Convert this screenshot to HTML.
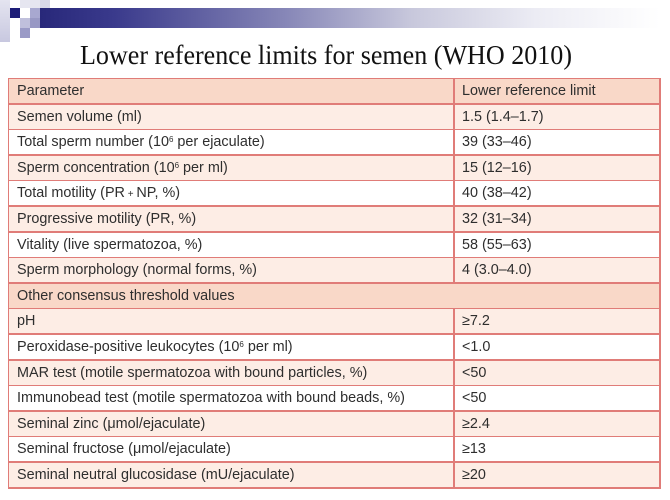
<!DOCTYPE html>
<html><head><meta charset="utf-8"><style>
html,body{margin:0;padding:0;background:#fff;}
body{width:670px;height:500px;position:relative;overflow:hidden;font-family:"Liberation Sans",sans-serif;}
.abs{position:absolute;}
.row{position:absolute;left:8px;width:652px;box-sizing:border-box;}
.c1{position:absolute;left:9px;top:0;font-size:14.4px;color:#2e2e2e;white-space:nowrap;}
.c2{position:absolute;left:454px;top:0;font-size:14.4px;color:#2e2e2e;white-space:nowrap;}
sup{font-size:8px;vertical-align:top;position:relative;top:-2px;}
.hl{position:absolute;left:8px;width:652px;height:1.5px;background:#e07c78;}
</style></head><body>
<!-- decoration -->
<div class="abs" style="left:0;top:0;width:10px;height:42px;background:linear-gradient(#e4e4f0,#c8c8e0);"></div>
<div class="abs" style="left:40px;top:8px;width:620px;height:20px;background:linear-gradient(90deg,#28287a 0%,#3a3a8c 12%,#8888b8 40%,#c8c8dc 60%,#ececf4 80%,#fff 100%);"></div>
<div class="abs" style="left:10px;top:8px;width:10px;height:10px;background:#1e1e78;"></div>
<div class="abs" style="left:20px;top:0;width:20px;height:8px;background:#e6e6f0;"></div>
<div class="abs" style="left:30px;top:8px;width:10px;height:10px;background:#a8a8d0;"></div>
<div class="abs" style="left:20px;top:18px;width:10px;height:10px;background:#c0c0dc;"></div>
<div class="abs" style="left:30px;top:18px;width:10px;height:10px;background:#9898c4;"></div>
<div class="abs" style="left:20px;top:28px;width:10px;height:10px;background:#9a9ac6;"></div>
<div class="abs" style="left:40px;top:0;width:10px;height:8px;background:#d8d8e8;"></div>
<!-- title -->
<svg class="abs" style="left:0;top:0" width="670" height="78">
<text x="80" y="64" font-family="Liberation Serif, serif" font-size="27" fill="#111" textLength="492" lengthAdjust="spacingAndGlyphs">Lower reference limits for semen (WHO 2010)</text>
</svg>
<!-- rows backgrounds -->
<div class="row" style="top:78px;height:26px;background:#f9d8c8;"></div>
<div class="row" style="top:103.6px;height:26px;background:#fdede5;"></div>
<div class="row" style="top:129.2px;height:26px;background:#fff;"></div>
<div class="row" style="top:154.8px;height:26px;background:#fdede5;"></div>
<div class="row" style="top:180.4px;height:26px;background:#fff;"></div>
<div class="row" style="top:206px;height:26px;background:#fdede5;"></div>
<div class="row" style="top:231.6px;height:26px;background:#fff;"></div>
<div class="row" style="top:257.2px;height:26px;background:#fdede5;"></div>
<div class="row" style="top:282.8px;height:26px;background:#f9d8c8;"></div>
<div class="row" style="top:308.4px;height:26px;background:#fdede5;"></div>
<div class="row" style="top:334px;height:26px;background:#fff;"></div>
<div class="row" style="top:359.6px;height:26px;background:#fdede5;"></div>
<div class="row" style="top:385.2px;height:26px;background:#fff;"></div>
<div class="row" style="top:410.8px;height:26px;background:#fdede5;"></div>
<div class="row" style="top:436.4px;height:26px;background:#fff;"></div>
<div class="row" style="top:462px;height:25.6px;background:#fdede5;"></div>
<!-- horizontal lines -->
<div class="hl" style="top:77.5px"></div>
<div class="hl" style="top:103px"></div>
<div class="hl" style="top:128.6px"></div>
<div class="hl" style="top:154.2px"></div>
<div class="hl" style="top:179.8px"></div>
<div class="hl" style="top:205.4px"></div>
<div class="hl" style="top:231px"></div>
<div class="hl" style="top:256.6px"></div>
<div class="hl" style="top:282.2px"></div>
<div class="hl" style="top:307.8px"></div>
<div class="hl" style="top:333.4px"></div>
<div class="hl" style="top:359px"></div>
<div class="hl" style="top:384.6px"></div>
<div class="hl" style="top:410.2px"></div>
<div class="hl" style="top:435.8px"></div>
<div class="hl" style="top:461.4px"></div>
<div class="hl" style="top:487px"></div>
<!-- vertical lines -->
<div class="abs" style="left:7.5px;top:77.5px;width:1.5px;height:411px;background:#e07c78;"></div>
<div class="abs" style="left:659px;top:77.5px;width:1.5px;height:411px;background:#e07c78;"></div>
<div class="abs" style="left:453px;top:77.5px;width:1.5px;height:205px;background:#e07c78;"></div>
<div class="abs" style="left:453px;top:308px;width:1.5px;height:180px;background:#e07c78;"></div>
<!-- text -->
<div class="row" style="top:78px;height:26px;line-height:26px;"><span class="c1">Parameter</span><span class="c2">Lower reference limit</span></div>
<div class="row" style="top:103.6px;height:26px;line-height:26px;"><span class="c1">Semen volume (ml)</span><span class="c2">1.5 (1.4–1.7)</span></div>
<div class="row" style="top:129.2px;height:26px;line-height:26px;"><span class="c1">Total sperm number (10<sup>6</sup> per ejaculate)</span><span class="c2">39 (33–46)</span></div>
<div class="row" style="top:154.8px;height:26px;line-height:26px;"><span class="c1">Sperm concentration (10<sup>6</sup> per ml)</span><span class="c2">15 (12–16)</span></div>
<div class="row" style="top:180.4px;height:26px;line-height:26px;"><span class="c1">Total motility (PR<span style="font-size:10px"> + </span>NP, %)</span><span class="c2">40 (38–42)</span></div>
<div class="row" style="top:206px;height:26px;line-height:26px;"><span class="c1">Progressive motility (PR, %)</span><span class="c2">32 (31–34)</span></div>
<div class="row" style="top:231.6px;height:26px;line-height:26px;"><span class="c1">Vitality (live spermatozoa, %)</span><span class="c2">58 (55–63)</span></div>
<div class="row" style="top:257.2px;height:26px;line-height:26px;"><span class="c1">Sperm morphology (normal forms, %)</span><span class="c2">4 (3.0–4.0)</span></div>
<div class="row" style="top:282.8px;height:26px;line-height:26px;"><span class="c1">Other consensus threshold values</span></div>
<div class="row" style="top:308.4px;height:26px;line-height:26px;"><span class="c1">pH</span><span class="c2">≥7.2</span></div>
<div class="row" style="top:334px;height:26px;line-height:26px;"><span class="c1">Peroxidase-positive leukocytes (10<sup>6</sup> per ml)</span><span class="c2">&lt;1.0</span></div>
<div class="row" style="top:359.6px;height:26px;line-height:26px;"><span class="c1">MAR test (motile spermatozoa with bound particles, %)</span><span class="c2">&lt;50</span></div>
<div class="row" style="top:385.2px;height:26px;line-height:26px;"><span class="c1">Immunobead test (motile spermatozoa with bound beads, %)</span><span class="c2">&lt;50</span></div>
<div class="row" style="top:410.8px;height:26px;line-height:26px;"><span class="c1">Seminal zinc (μmol/ejaculate)</span><span class="c2">≥2.4</span></div>
<div class="row" style="top:436.4px;height:26px;line-height:26px;"><span class="c1">Seminal fructose (μmol/ejaculate)</span><span class="c2">≥13</span></div>
<div class="row" style="top:462px;height:26px;line-height:26px;"><span class="c1">Seminal neutral glucosidase (mU/ejaculate)</span><span class="c2">≥20</span></div>
</body></html>
